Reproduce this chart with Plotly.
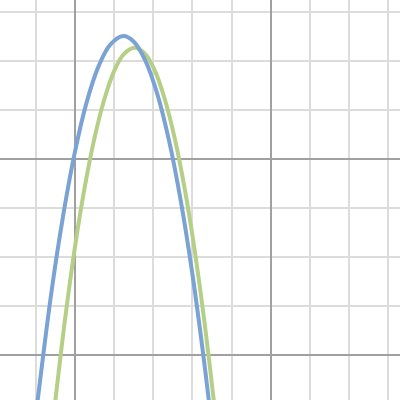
import plotly.graph_objects as go

# points, in grid units (one minor cell = 1)
blue_x = [-1.0, -0.6, -0.3, 0.0, 0.3, 0.6, 0.9, 1.235, 1.5, 1.8, 2.1, 2.4, 2.7, 3.0, 3.3, 3.5]
blue_y = [-5.28, -2.74, -1.17, 0.13, 1.15, 1.88, 2.33, 2.51, 2.40, 2.01, 1.34, 0.39, -0.84, -2.35, -4.14, -5.49]

green_x = [-0.55, -0.25, 0.0, 0.25, 0.5, 0.75, 1.0, 1.25, 1.525, 1.8, 2.05, 2.3, 2.55, 2.8, 3.05, 3.3, 3.6]
green_y = [-5.31, -3.28, -1.82, -0.59, 0.42, 1.21, 1.79, 2.14, 2.27, 2.14, 1.79, 1.21, 0.42, -0.59, -1.82, -3.28, -5.31]

fig = go.Figure()
fig.add_trace(go.Scatter(x=green_x, y=green_y, mode='lines',
                         line=dict(color='#b5cf86', width=4, shape='spline'),
                         hoverinfo='skip'))
fig.add_trace(go.Scatter(x=blue_x, y=blue_y, mode='lines',
                         line=dict(color='#7aa2d4', width=4, shape='spline'),
                         hoverinfo='skip'))

fig.update_layout(
    width=400, height=400,
    margin=dict(l=0, r=0, t=0, b=0),
    paper_bgcolor='white', plot_bgcolor='white',
    showlegend=False,
    xaxis=dict(range=[-1.908, 8.296], tick0=0, dtick=5, showticklabels=False,
               zeroline=False, showgrid=True, gridcolor='#a0a0a0', gridwidth=2,
               minor=dict(tick0=0, dtick=1, showgrid=True, gridcolor='#dcdcdc', gridwidth=2)),
    yaxis=dict(range=[-4.918, 3.245], tick0=0, dtick=4, showticklabels=False,
               zeroline=False, showgrid=True, gridcolor='#a0a0a0', gridwidth=2,
               minor=dict(tick0=0, dtick=1, showgrid=True, gridcolor='#dcdcdc', gridwidth=2)),
)

# page body has a default 8px margin, drop it so the plot sits at 0,0
fig.write_html("out.html", config={'displayModeBar': False},
               post_script="document.body.style.margin='0';")
